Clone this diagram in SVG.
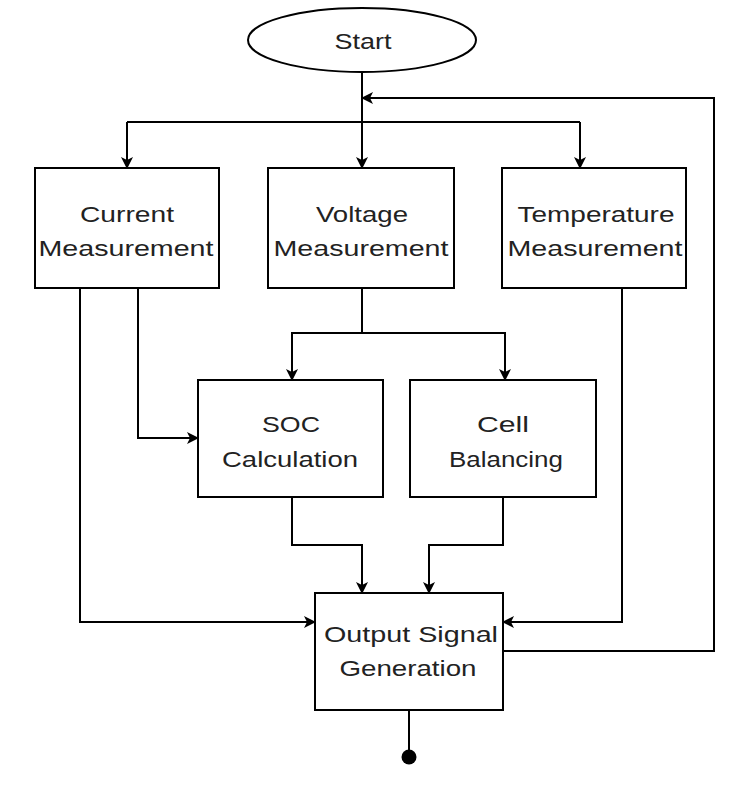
<svg xmlns="http://www.w3.org/2000/svg" width="734" height="802" viewBox="0 0 734 802">
<style>
.b{fill:#fff;stroke:#000;stroke-width:2}
.t{font-family:"Liberation Sans",Arial,sans-serif;font-size:22px;fill:#222;text-anchor:middle}
.c{fill:none;stroke:#000;stroke-width:2}
</style>
<defs><marker id="a" viewBox="0 0 12 12" refX="11" refY="6" markerWidth="12" markerHeight="12" markerUnits="userSpaceOnUse" orient="auto"><path d="M0,0 L12,6 L0,12 L3,6 Z" fill="#000"/></marker></defs>
<rect width="734" height="802" fill="#fff"/>
<g id="connectors">
<path class="c" d="M362,72 V168" marker-end="url(#a)"/>
<path class="c" d="M127,122 H580 M127,122 V168 M580,122 V168" />
<path class="c" d="M127,150 V168" marker-end="url(#a)"/>
<path class="c" d="M580,150 V168" marker-end="url(#a)"/>
<path class="c" d="M503,651 H714 V98 H362" marker-end="url(#a)"/>
<path class="c" d="M362,288 V333 H292 V380" marker-end="url(#a)"/>
<path class="c" d="M362,333 H505 V380" marker-end="url(#a)"/>
<path class="c" d="M138,288 V438 H198" marker-end="url(#a)"/>
<path class="c" d="M80,288 V622 H315" marker-end="url(#a)"/>
<path class="c" d="M622,288 V622 H503" marker-end="url(#a)"/>
<path class="c" d="M292,497 V545 H362 V593" marker-end="url(#a)"/>
<path class="c" d="M503,497 V545 H429 V593" marker-end="url(#a)"/>
<path class="c" d="M409,710 V750"/>
<circle cx="409" cy="757" r="7.5" fill="#000"/>
</g>
<g id="start"><ellipse class="b" cx="362" cy="40" rx="114" ry="32"/><text class="t" x="363" y="49" textLength="57" lengthAdjust="spacingAndGlyphs">Start</text></g>
<g id="current"><rect class="b" x="35" y="168" width="184" height="120"/><text class="t" x="127" y="222" textLength="94" lengthAdjust="spacingAndGlyphs">Current</text><text class="t" x="126" y="256" textLength="175" lengthAdjust="spacingAndGlyphs">Measurement</text></g>
<g id="voltage"><rect class="b" x="268" y="168" width="186" height="120"/><text class="t" x="362" y="222" textLength="92" lengthAdjust="spacingAndGlyphs">Voltage</text><text class="t" x="361" y="256" textLength="175" lengthAdjust="spacingAndGlyphs">Measurement</text></g>
<g id="temperature"><rect class="b" x="502" y="168" width="184" height="120"/><text class="t" x="596" y="222" textLength="157" lengthAdjust="spacingAndGlyphs">Temperature</text><text class="t" x="595" y="256" textLength="175" lengthAdjust="spacingAndGlyphs">Measurement</text></g>
<g id="soc"><rect class="b" x="198" y="380" width="185" height="117"/><text class="t" x="291" y="432" textLength="58" lengthAdjust="spacingAndGlyphs">SOC</text><text class="t" x="290" y="467" textLength="136" lengthAdjust="spacingAndGlyphs">Calculation</text></g>
<g id="cell"><rect class="b" x="410" y="380" width="186" height="117"/><text class="t" x="503" y="432" textLength="52" lengthAdjust="spacingAndGlyphs">Cell</text><text class="t" x="506" y="467" textLength="114" lengthAdjust="spacingAndGlyphs">Balancing</text></g>
<g id="output"><rect class="b" x="315" y="593" width="188" height="117"/><text class="t" x="411" y="642" textLength="174" lengthAdjust="spacingAndGlyphs">Output Signal</text><text class="t" x="408" y="676" textLength="137" lengthAdjust="spacingAndGlyphs">Generation</text></g>
</svg>
